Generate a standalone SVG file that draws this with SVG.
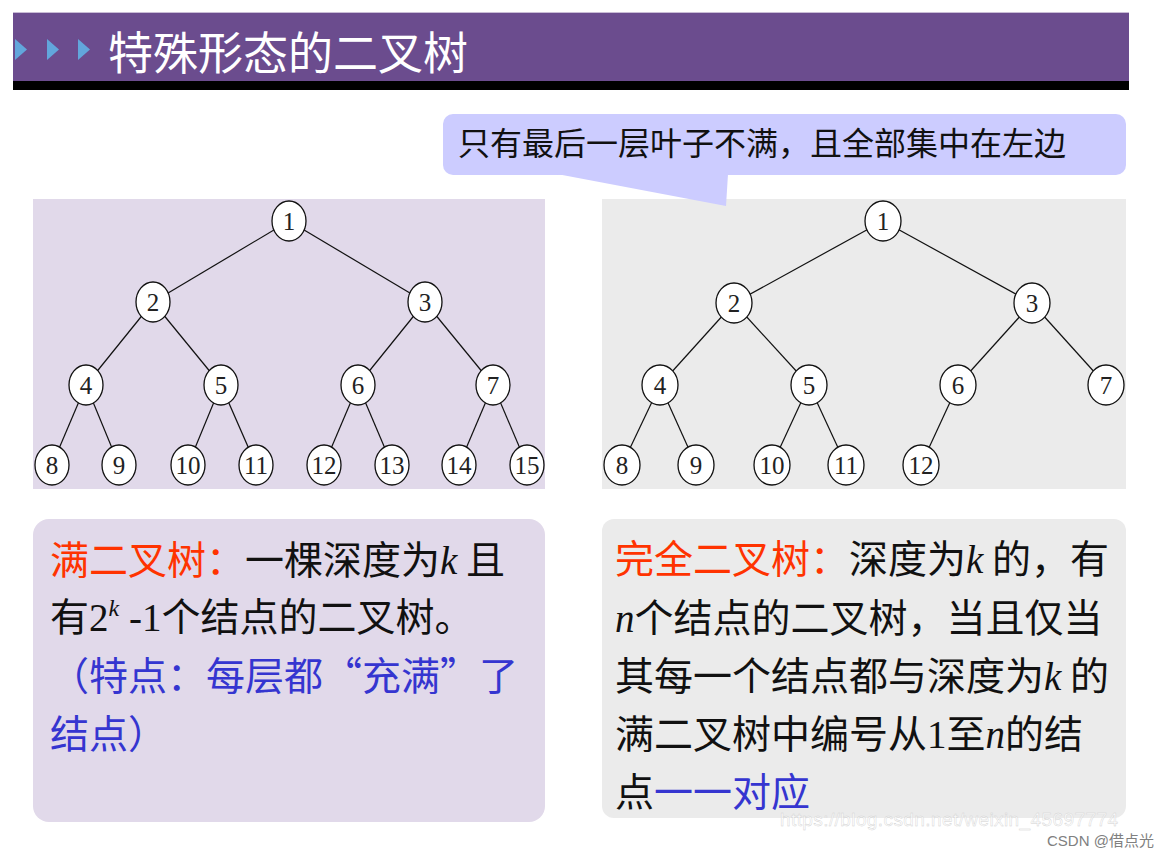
<svg xmlns="http://www.w3.org/2000/svg" width="1162" height="854" viewBox="0 0 1162 854">
<style>
.cjk{font-family:"Noto Sans CJK SC","Noto Sans",sans-serif;}
.body{font-family:"Noto Sans CJK SC","Noto Sans",sans-serif;font-size:39px;fill:#111;}
.m{font-family:"Liberation Serif",serif;font-style:italic;}
.r{font-family:"Liberation Serif",serif;}
.red{fill:#FF3300;}
.blue{fill:#3535D0;}
.node ellipse{fill:#fff;stroke:#111;stroke-width:1.3;}
.node text{font-family:"Liberation Serif",serif;font-size:25px;fill:#222;text-anchor:middle;}
.edge line{stroke:#111;stroke-width:1.2;}
.tri{fill:#62A6DC;}
</style>
<rect width="1162" height="854" fill="#fff"/>
<!-- header -->
<g id="header">
<rect x="13" y="12" width="1116" height="1.5" fill="#c9bcd6"/>
<rect x="13" y="13" width="1116" height="68" fill="#6B4C8E"/>
<rect x="13" y="81" width="1116" height="9" fill="#000"/>
<polygon class="tri" points="15,39 15,60 27,49.5"/>
<polygon class="tri" points="47,39 47,60 59,49.5"/>
<polygon class="tri" points="78,39 78,60 90,49.5"/>
<text x="108" y="70" class="cjk" font-size="45" fill="#fff">特殊形态的二叉树</text>
</g>
<!-- panels -->
<rect x="33" y="199" width="512" height="290" fill="#E1D9EA"/>
<rect x="602" y="199" width="524" height="290" fill="#EBEBEB"/>
<!-- callout -->
<g id="callout">
<rect x="443" y="114" width="683" height="61" rx="10" fill="#CCCCFF"/>
<polygon points="557,174 728,174 726,206" fill="#CCCCFF"/>
<text x="458" y="155" class="cjk" font-size="32" fill="#111">只有最后一层叶子不满，且全部集中在左边</text>
</g>
<!-- left tree connectors -->
<g id="left-edges" class="edge">
<line x1="289" y1="221" x2="153" y2="302"/>
<line x1="289" y1="221" x2="425" y2="302"/>
<line x1="153" y1="302" x2="86" y2="385"/>
<line x1="153" y1="302" x2="221" y2="385"/>
<line x1="425" y1="302" x2="358" y2="385"/>
<line x1="425" y1="302" x2="493" y2="385"/>
<line x1="86" y1="385" x2="52" y2="465"/>
<line x1="86" y1="385" x2="119" y2="465"/>
<line x1="221" y1="385" x2="188" y2="465"/>
<line x1="221" y1="385" x2="256" y2="465"/>
<line x1="358" y1="385" x2="324" y2="465"/>
<line x1="358" y1="385" x2="392" y2="465"/>
<line x1="493" y1="385" x2="459" y2="465"/>
<line x1="493" y1="385" x2="527" y2="465"/>
</g>
<!-- right tree connectors -->
<g id="right-edges" class="edge">
<line x1="883" y1="221" x2="734" y2="303"/>
<line x1="883" y1="221" x2="1032" y2="303"/>
<line x1="734" y1="303" x2="660" y2="385"/>
<line x1="734" y1="303" x2="809" y2="385"/>
<line x1="1032" y1="303" x2="958" y2="385"/>
<line x1="1032" y1="303" x2="1106" y2="385"/>
<line x1="660" y1="385" x2="622" y2="465"/>
<line x1="660" y1="385" x2="696" y2="465"/>
<line x1="809" y1="385" x2="772" y2="465"/>
<line x1="809" y1="385" x2="846" y2="465"/>
<line x1="958" y1="385" x2="921" y2="465"/>
</g>
<!-- left tree nodes -->
<g id="L1" class="node"><ellipse cx="289" cy="221" rx="17" ry="20"/><text x="289" y="230">1</text></g>
<g id="L2" class="node"><ellipse cx="153" cy="302" rx="17" ry="20"/><text x="153" y="311">2</text></g>
<g id="L3" class="node"><ellipse cx="425" cy="302" rx="17" ry="20"/><text x="425" y="311">3</text></g>
<g id="L4" class="node"><ellipse cx="86" cy="385" rx="17" ry="20"/><text x="86" y="394">4</text></g>
<g id="L5" class="node"><ellipse cx="221" cy="385" rx="17" ry="20"/><text x="221" y="394">5</text></g>
<g id="L6" class="node"><ellipse cx="358" cy="385" rx="17" ry="20"/><text x="358" y="394">6</text></g>
<g id="L7" class="node"><ellipse cx="493" cy="385" rx="17" ry="20"/><text x="493" y="394">7</text></g>
<g id="L8" class="node"><ellipse cx="52" cy="465" rx="17" ry="20"/><text x="52" y="474">8</text></g>
<g id="L9" class="node"><ellipse cx="119" cy="465" rx="17" ry="20"/><text x="119" y="474">9</text></g>
<g id="L10" class="node"><ellipse cx="188" cy="465" rx="17" ry="20"/><text x="188" y="474">10</text></g>
<g id="L11" class="node"><ellipse cx="256" cy="465" rx="17" ry="20"/><text x="256" y="474">11</text></g>
<g id="L12" class="node"><ellipse cx="324" cy="465" rx="17" ry="20"/><text x="324" y="474">12</text></g>
<g id="L13" class="node"><ellipse cx="392" cy="465" rx="17" ry="20"/><text x="392" y="474">13</text></g>
<g id="L14" class="node"><ellipse cx="459" cy="465" rx="17" ry="20"/><text x="459" y="474">14</text></g>
<g id="L15" class="node"><ellipse cx="527" cy="465" rx="17" ry="20"/><text x="527" y="474">15</text></g>
<!-- right tree nodes -->
<g id="R1" class="node"><ellipse cx="883" cy="221" rx="18" ry="20"/><text x="883" y="230">1</text></g>
<g id="R2" class="node"><ellipse cx="734" cy="303" rx="18" ry="20"/><text x="734" y="312">2</text></g>
<g id="R3" class="node"><ellipse cx="1032" cy="303" rx="18" ry="20"/><text x="1032" y="312">3</text></g>
<g id="R4" class="node"><ellipse cx="660" cy="385" rx="18" ry="20"/><text x="660" y="394">4</text></g>
<g id="R5" class="node"><ellipse cx="809" cy="385" rx="18" ry="20"/><text x="809" y="394">5</text></g>
<g id="R6" class="node"><ellipse cx="958" cy="385" rx="18" ry="20"/><text x="958" y="394">6</text></g>
<g id="R7" class="node"><ellipse cx="1106" cy="385" rx="18" ry="20"/><text x="1106" y="394">7</text></g>
<g id="R8" class="node"><ellipse cx="622" cy="465" rx="18" ry="20"/><text x="622" y="474">8</text></g>
<g id="R9" class="node"><ellipse cx="696" cy="465" rx="18" ry="20"/><text x="696" y="474">9</text></g>
<g id="R10" class="node"><ellipse cx="772" cy="465" rx="18" ry="20"/><text x="772" y="474">10</text></g>
<g id="R11" class="node"><ellipse cx="846" cy="465" rx="18" ry="20"/><text x="846" y="474">11</text></g>
<g id="R12" class="node"><ellipse cx="921" cy="465" rx="18" ry="20"/><text x="921" y="474">12</text></g>
<!-- left text box -->
<g id="full-def">
<rect x="33" y="519" width="512" height="303" rx="16" fill="#E1D9EA"/>
<text x="50" y="574" class="body"><tspan class="red">满二叉树：</tspan>一棵深度为<tspan class="m">k</tspan> 且</text>
<text x="50" y="631" class="body">有<tspan class="r">2</tspan><tspan class="m" font-size="24" dy="-15">k</tspan><tspan class="r" dy="15"> -1</tspan>个结点的二叉树。</text>
<text x="50" y="690" class="body blue">（特点：每层都“充满”了</text>
<text x="50" y="748" class="body blue">结点）</text>
</g>
<!-- right text box -->
<g id="complete-def">
<rect x="602" y="519" width="524" height="299" rx="12" fill="#EBEBEB"/>
<text x="615" y="573" class="body"><tspan class="red">完全二叉树：</tspan>深度为<tspan class="m">k</tspan> 的，有</text>
<text x="615" y="632" class="body"><tspan class="m">n</tspan>个结点的二叉树，当且仅当</text>
<text x="615" y="690" class="body">其每一个结点都与深度为<tspan class="m">k</tspan> 的</text>
<text x="615" y="748" class="body">满二叉树中编号从<tspan class="r">1</tspan>至<tspan class="m">n</tspan>的结</text>
<text x="615" y="806" class="body">点<tspan class="blue">一一对应</tspan></text>
</g>
<!-- watermarks -->
<text x="780" y="826" font-family="Liberation Sans,Arial,sans-serif" font-size="19" fill="#fff" fill-opacity="0.75" stroke="#d0d0d0" stroke-width="0.4" textLength="338">https://blog.csdn.net/weixin_45697774</text>
<text x="1047" y="846" font-family="Liberation Sans,'Noto Sans CJK SC',sans-serif" font-size="15" fill="#808080">CSDN @借点光</text>
</svg>
